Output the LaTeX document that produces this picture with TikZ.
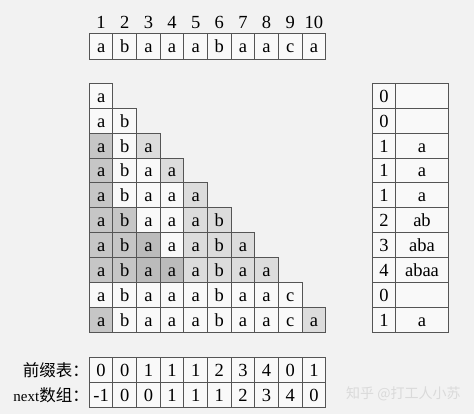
\documentclass[tikz,border=0pt]{standalone}
\usepackage{fontspec}
\setmainfont{Liberation Serif}
\newfontfamily\cjk{Noto Sans CJK SC}
\definecolor{bgc}{HTML}{F2F2F2}
\definecolor{cellw}{HTML}{F9F9F9}
\definecolor{celld}{HTML}{C6C6C6}
\definecolor{celldd}{HTML}{BBBBBB}
\definecolor{celll}{HTML}{DCDCDC}
\definecolor{linec}{HTML}{555555}
\definecolor{wmark}{HTML}{DADADA}
\tikzset{
  txt/.style={inner sep=0pt, text height=13pt, text depth=0pt, font=\fontsize{18.5}{18.5}\selectfont},
  cellbox/.style={txt, draw=linec, line width=0.9pt, fill=cellw, minimum width=23.64pt, minimum height=24.9pt},
  toprow/.style={cellbox, minimum height=26pt},
  widebox/.style={cellbox, minimum width=52.6pt},
  narrowbox/.style={cellbox, minimum width=23.4pt},
  lbl/.style={inner sep=0pt, anchor=east},
}
\begin{document}
\begin{tikzpicture}[x=1pt,y=-1pt]
\fill[bgc] (0,0) rectangle (474,414);
\useasboundingbox (0,0) rectangle (474,414);

% top index numbers and string
\foreach \ch [count=\j] in {a,b,a,a,a,b,a,a,c,a}{
  \node[txt] (n\j) at ({89.3+(\j-0.5)*23.64},22.5) {\j};
  \node[toprow] (s\j) at ({89.3+(\j-0.5)*23.64},46.3) {\ch};
}

% triangle
\def\pv{{0,0,0,1,1,1,2,3,4,0,1}}
\foreach \r in {1,...,10}{
  \foreach \ch [count=\c] in {a,b,a,a,a,b,a,a,c,a}{
    \ifnum\c>\r\else
      \pgfmathtruncatemacro{\p}{\pv[\r]}
      \pgfmathtruncatemacro{\lo}{\r-\p}
      \def\fc{cellw}
      \ifnum\c>\lo \def\fc{celll}\fi
      \ifnum\c>\p\else \def\fc{celld}\fi
      \ifnum\r=7 \ifnum\c=3 \def\fc{celldd}\fi\fi
      \ifnum\r=8 \ifnum\c>2 \ifnum\c<5 \def\fc{celldd}\fi\fi\fi
      \node[cellbox, fill=\fc] (t\r-\c) at ({89.3+(\c-0.5)*23.64},{83.3+(\r-0.5)*24.9}) {\ch};
    \fi
  }
}

% right table
\foreach \v/\s [count=\r] in {0/{},0/{},1/a,1/a,1/a,2/ab,3/aba,4/abaa,0/{},1/a}{
  \node[narrowbox] (pn\r) at (384,{83.3+(\r-0.5)*24.9}) {\v};
  \node[widebox] (ps\r) at (422,{83.3+(\r-0.5)*24.9}) {\s};
}

% bottom tables
\foreach \v [count=\j] in {0,0,1,1,1,2,3,4,0,1}{
  \node[cellbox, minimum height=25pt] (pf\j) at ({89.3+(\j-0.5)*23.64},370.2) {\v};
}
\foreach \v [count=\j] in {-1,0,0,1,1,1,2,3,4,0}{
  \node[cellbox, minimum height=25pt] (nx\j) at ({89.3+(\j-0.5)*23.64},395.2) {\v};
}
\node[lbl] (lpf) at (89,370.2) {\cjk\fontsize{16.5}{16.5}\selectfont 前缀表：};
\node[lbl] (lnx) at (89,395.2) {{\fontsize{15}{15}\selectfont next}\cjk\fontsize{16.5}{16.5}\selectfont 数组：};

% watermark
\node[inner sep=0pt, anchor=west, text=wmark] (wm) at (346,394) {\cjk\fontsize{14}{14}\selectfont 知乎 @打工人小苏};
\end{tikzpicture}
\end{document}
